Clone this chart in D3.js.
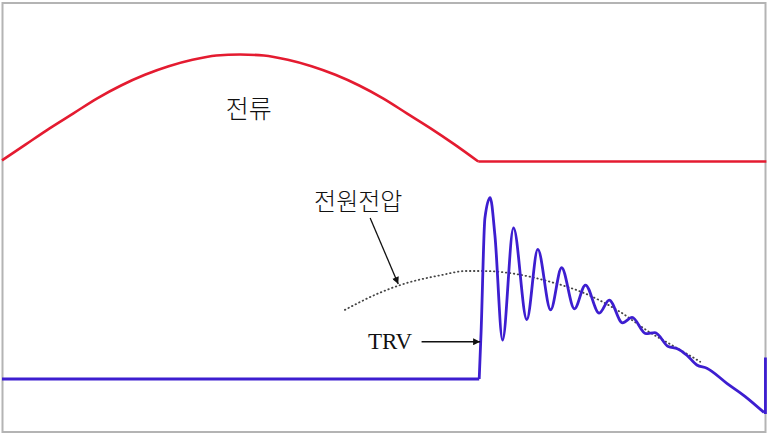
<!DOCTYPE html>
<html>
<head>
<meta charset="utf-8">
<script src="https://cdn.jsdelivr.net/npm/d3@7"></script>
<style>
  body { margin: 0; background: #fff; }
  svg { display: block; }
</style>
</head>
<body>
<div id="chart"></div>
<script>
// time axis in ms-like units, current zero at t = 10
var width = 768;
var height = 435;

// current (red), per unit of its peak
const currentT = [0, 0.5, 1, 1.5, 2, 2.5, 3, 3.5, 4, 4.5, 5, 5.5, 6, 6.5, 7, 7.5, 8, 8.5, 9, 9.5, 10, 16.05];
const currentI = [0.01, 0.16, 0.31, 0.45, 0.59, 0.71, 0.81, 0.89, 0.95, 0.99, 1.0, 0.99, 0.95, 0.89, 0.81, 0.71, 0.59, 0.45, 0.31, 0.16, 0, 0];

// source voltage (dotted), per unit
const sourceT = [7.20, 7.94, 8.36, 9.20, 9.76, 10.10, 10.67, 11.51, 12.20, 12.91, 13.61, 14.24, 14.66];
const sourceV = [0.64, 0.80, 0.87, 0.96, 1.00, 1.00, 0.98, 0.90, 0.80, 0.64, 0.43, 0.27, 0.16];

// voltage across breaker (blue): zero, then TRV after current zero
const trvT = [0, 10.02, 10.06, 10.14, 10.25, 10.35, 10.51, 10.74, 11.02, 11.25, 11.52, 11.75, 12.02, 12.25, 12.54, 12.75, 13.03, 13.23, 13.52, 13.71, 13.99, 14.18, 14.38, 14.59, 14.80, 15.22, 15.60, 16.00];
const trvV = [0, 0, 0.44, 1.49, 1.68, 1.33, 0.36, 1.40, 0.55, 1.20, 0.64, 1.03, 0.65, 0.87, 0.61, 0.73, 0.52, 0.57, 0.42, 0.43, 0.30, 0.28, 0.22, 0.13, 0.10, -0.04, -0.16, -0.31];
const tailT = [16.03, 16.03];
const tailV = [-0.31, 0.20];

// labels
const labelCurrent = {t: 5.18, v: 0.51, text: "전류"};
const labelSource = {t: 7.48, v: 1.66, text: "전원전압"};
const arrowSource = {t0: 7.73, v0: 1.49, t1: 8.32, v1: 0.88};
const labelTrv = {t: 8.61, v: 0.345, text: "TRV"};
const arrowTrv = {t0: 8.81, v0: 0.345, t1: 10.04, v1: 0.345};

const x = d3.scaleLinear().domain([0, 16]).range([2, 764]);
const yI = d3.scaleLinear().domain([0, 1]).range([161.5, 54.5]);
const yV = d3.scaleLinear().domain([0, 1]).range([379, 271]);

const svg = d3.select("#chart")
  .append("svg")
  .attr("width", width)
  .attr("height", height);

svg.append("rect")
  .attr("x", 2.5).attr("y", 3)
  .attr("width", 763).attr("height", 429)
  .attr("fill", "#fff")
  .attr("stroke", "#b4b4b4")
  .attr("stroke-width", 2);

const defs = svg.append("defs");
defs.append("marker")
  .attr("id", "head")
  .attr("viewBox", "0 0 10 10")
  .attr("refX", 10).attr("refY", 5)
  .attr("markerWidth", 8).attr("markerHeight", 7)
  .attr("markerUnits", "userSpaceOnUse")
  .attr("orient", "auto")
  .append("path")
  .attr("d", "M0,0L10,5L0,10Z")
  .attr("fill", "#111");

const current = currentT.map((t, i) => ({t: t, v: currentI[i]}));
const source = sourceT.map((t, i) => ({t: t, v: sourceV[i]}));
const trv = trvT.map((t, i) => ({t: t, v: trvV[i]}));
const tail = tailT.map((t, i) => ({t: t, v: tailV[i]}));

const lineI = d3.line().x(d => x(d.t)).y(d => yI(d.v));
const lineV = d3.line().x(d => x(d.t)).y(d => yV(d.v));

// current: smooth half wave, then flat after interruption
svg.append("path")
  .attr("d", lineI.curve(d3.curveMonotoneX)(current.filter(d => d.t <= 10)))
  .attr("fill", "none").attr("stroke", "#e41b30").attr("stroke-width", 2.6);
svg.append("path")
  .attr("d", lineI.curve(d3.curveLinear)(current.filter(d => d.t >= 10)))
  .attr("fill", "none").attr("stroke", "#e41b30").attr("stroke-width", 2.6);

// source voltage dotted
svg.append("path")
  .attr("d", lineV.curve(d3.curveMonotoneX)(source))
  .attr("fill", "none").attr("stroke", "#444")
  .attr("stroke-width", 1.8)
  .attr("stroke-linecap", "round")
  .attr("stroke-dasharray", "0.5,3.5");

// breaker voltage
svg.append("path")
  .attr("d", lineV.curve(d3.curveLinear)(trv.filter(d => d.t <= 10.02)))
  .attr("fill", "none").attr("stroke", "#3d1ed0").attr("stroke-width", 2.8);
svg.append("path")
  .attr("d", lineV.curve(d3.curveMonotoneX)(trv.filter(d => d.t >= 10.02)))
  .attr("fill", "none").attr("stroke", "#3d1ed0").attr("stroke-width", 2.8)
  .attr("stroke-linejoin", "round");
svg.append("path")
  .attr("d", lineV.curve(d3.curveLinear)([trv[trv.length - 1]].concat(tail)))
  .attr("fill", "none").attr("stroke", "#3d1ed0").attr("stroke-width", 2.8);

// annotations
svg.append("text")
  .attr("x", x(labelCurrent.t)).attr("y", yI(labelCurrent.v))
  .attr("text-anchor", "middle").attr("dominant-baseline", "central")
  .style("font-family", "'Noto Sans CJK KR', sans-serif")
  .style("font-weight", 300)
  .style("font-size", "25px").attr("fill", "#111")
  .text(labelCurrent.text);

svg.append("text")
  .attr("x", x(labelSource.t)).attr("y", yV(labelSource.v))
  .attr("text-anchor", "middle").attr("dominant-baseline", "central")
  .style("font-family", "'Noto Sans CJK KR', sans-serif")
  .style("font-weight", 300)
  .style("font-size", "24px").attr("fill", "#111")
  .text(labelSource.text);

svg.append("line")
  .attr("x1", x(arrowSource.t0)).attr("y1", yV(arrowSource.v0))
  .attr("x2", x(arrowSource.t1)).attr("y2", yV(arrowSource.v1))
  .attr("stroke", "#111").attr("stroke-width", 1.3)
  .attr("marker-end", "url(#head)");

svg.append("text")
  .attr("x", x(labelTrv.t)).attr("y", yV(labelTrv.v))
  .attr("text-anchor", "end").attr("dominant-baseline", "central")
  .style("font-family", "'Liberation Serif', serif")
  .style("font-size", "23px").attr("fill", "#111")
  .text(labelTrv.text);

svg.append("line")
  .attr("x1", x(arrowTrv.t0)).attr("y1", yV(arrowTrv.v0))
  .attr("x2", x(arrowTrv.t1)).attr("y2", yV(arrowTrv.v1))
  .attr("stroke", "#111").attr("stroke-width", 1.3)
  .attr("marker-end", "url(#head)");
</script>
</body>
</html>
